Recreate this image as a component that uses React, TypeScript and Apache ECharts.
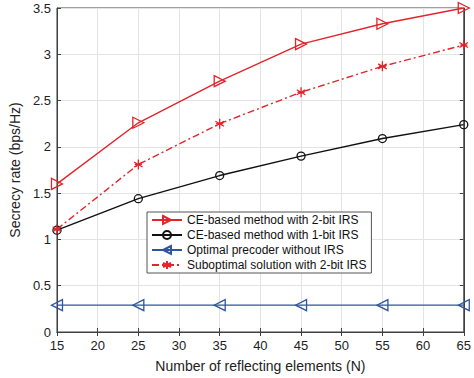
import React, { useEffect, useRef } from "react";
import * as echarts from "echarts";

const elements = [15, 25, 35, 45, 55, 65];
const ce2bit = [1.6, 2.26, 2.71, 3.11, 3.33, 3.5];
const ce1bit = [1.1, 1.44, 1.69, 1.9, 2.09, 2.24];
const noIrs = [0.29, 0.29, 0.29, 0.29, 0.29, 0.29];
const subopt2bit = [1.11, 1.81, 2.25, 2.59, 2.87, 3.1];
const seriesNames = [
  "CE-based method with 2-bit IRS",
  "CE-based method with 1-bit IRS",
  "Optimal precoder without IRS",
  "Suboptimal solution with 2-bit IRS",
];

const RED = "#e3242b";
const BLACK = "#111111";
const BLUE = "#2f54a3";
const AX = "#404040";
const FONT = "'Liberation Sans', Arial, sans-serif";

const triRight = "path://M0,0L10,5L0,10Z";
const triLeft = "path://M10,0L0,5L10,10Z";
const circ = "path://M10,5A5,5,0,1,1,0,5A5,5,0,1,1,10,5Z";
const star = "path://M5,0L5,10M0.7,2.5L9.3,7.5M0.7,7.5L9.3,2.5M1.5,5L8.5,5";

export default function App() {
  const ref = useRef<HTMLDivElement>(null);
  useEffect(() => {
    document.body.style.margin = "0";
    const chart = echarts.init(ref.current!, null, { renderer: "svg" });
    const pair = (ys: number[]) => elements.map((x, i) => [x, ys[i]]);
    const mk = (
      name: string,
      ys: number[],
      color: string,
      symbol: string,
      size: number,
      lineType: any
    ) => ({
      name,
      type: "line",
      data: pair(ys),
      symbol,
      symbolSize: size,
      symbolKeepAspect: true,
      showAllSymbol: true,
      lineStyle: { color, width: 1.4, type: lineType },
      itemStyle: { color: "rgba(255,255,255,0)", borderColor: color, borderWidth: 1.3 },
      emphasis: { disabled: true },
      z: 3,
    });
    chart.setOption({
      animation: false,
      textStyle: { fontFamily: FONT },
      grid: {
        left: 45,
        right: 9,
        top: 8,
        bottom: 41,
        show: true,
        borderColor: AX,
        borderWidth: 1,
        backgroundColor: "#fff",
      },
      legend: {
        orient: "vertical",
        left: 147,
        top: 212,
        padding: [2, 5, 2, 4],
        itemGap: 3,
        itemWidth: 30,
        itemHeight: 10,
        backgroundColor: "#fff",
        borderColor: "#555",
        borderWidth: 1,
        textStyle: { fontFamily: FONT, fontSize: 12, color: "#111" },
        data: seriesNames,
      },
      xAxis: [
        {
          type: "value",
          min: 15,
          max: 65,
          interval: 5,
          name: "Number of reflecting elements (N)",
          nameLocation: "middle",
          nameGap: 27,
          nameTextStyle: { fontSize: 14, color: "#222", fontFamily: FONT },
          axisLine: { show: true, lineStyle: { color: AX } },
          axisTick: { inside: true, length: 4, lineStyle: { color: AX } },
          axisLabel: { fontSize: 13, color: "#222", margin: 7, fontFamily: FONT },
          splitLine: { show: true, lineStyle: { color: "#e3e3e3", width: 1 } },
        },
        {
          type: "value",
          position: "top",
          min: 15,
          max: 65,
          interval: 5,
          axisLine: { show: true, lineStyle: { color: AX } },
          axisTick: { inside: true, length: 4, lineStyle: { color: AX } },
          axisLabel: { show: false },
          splitLine: { show: false },
        },
      ],
      yAxis: [
        {
          type: "value",
          min: 0,
          max: 3.5,
          interval: 0.5,
          name: "Secrecy rate (bps/Hz)",
          nameLocation: "middle",
          nameGap: 31,
          nameTextStyle: { fontSize: 14, color: "#222", fontFamily: FONT },
          axisLine: { show: true, lineStyle: { color: AX } },
          axisTick: { inside: true, length: 4, lineStyle: { color: AX } },
          axisLabel: { fontSize: 13, color: "#222", margin: 6, fontFamily: FONT },
          splitLine: { show: true, lineStyle: { color: "#e3e3e3", width: 1 } },
        },
        {
          type: "value",
          position: "right",
          min: 0,
          max: 3.5,
          interval: 0.5,
          axisLine: { show: true, lineStyle: { color: AX } },
          axisTick: { inside: true, length: 4, lineStyle: { color: AX } },
          axisLabel: { show: false },
          splitLine: { show: false },
        },
      ],
      series: [
        mk(seriesNames[0], ce2bit, RED, triRight, 11, "solid"),
        mk(seriesNames[1], ce1bit, BLACK, circ, 8, "solid"),
        mk(seriesNames[2], noIrs, BLUE, triLeft, 11, "solid"),
        mk(seriesNames[3], subopt2bit, RED, star, 10, [7, 3, 2, 3]),
      ],
    });
    return () => chart.dispose();
  }, []);
  return <div ref={ref} style={{ width: 474, height: 378 }} />;
}
